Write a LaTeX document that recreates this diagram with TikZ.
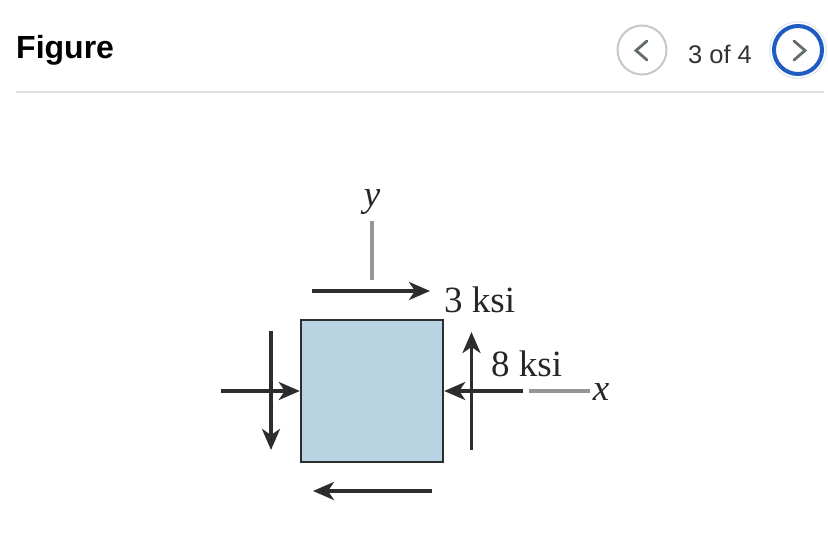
\documentclass[tikz,border=0pt]{standalone}
\usepackage{fontspec}
\setmainfont{Liberation Serif}
\newfontfamily\uifont{Liberation Sans}
\usetikzlibrary{arrows.meta,calc}
\definecolor{plateblue}{RGB}{184,211,226}
\definecolor{ringblue}{RGB}{32,91,194}
\definecolor{ringgrey}{RGB}{200,200,200}
\definecolor{chevrongrey}{RGB}{100,108,108}
\definecolor{axisgrey}{RGB}{150,150,150}
\definecolor{inkgrey}{RGB}{45,45,45}

\begin{document}
\begin{tikzpicture}[x=1pt, y=-1pt,
    load/.style={line width=3.6pt,draw=inkgrey,-{Stealth[length=21pt,width=18pt,inset=6pt,fill=black]}},
    axisline/.style={line width=3.6pt,draw=axisgrey},
    label/.style={font=\fontsize{37}{37}\selectfont,text=black!85,inner sep=0pt},
    chevron/.style={line width=2.8pt,draw=chevrongrey,line cap=round,line join=miter}]
  \useasboundingbox (0,0) rectangle (828,534);

  % Header of the panel
  \node[font=\uifont\bfseries\fontsize{32}{32}\selectfont,anchor=west,inner sep=0pt]
    (title) at (16,50) {Figure};
  \node[font=\uifont\fontsize{25.5}{25.5}\selectfont,text=black!80,inner sep=0pt]
    (pager) at (720,54) {3 of 4};
  \draw[line width=2pt,draw=black!12] (16,92) -- (824,92);

  % Previous button
  \node[circle,draw=ringgrey,line width=2pt,fill=white,minimum size=49pt,inner sep=0pt]
    (prev) at (642,50) {};
  \draw[chevron] (647,41) -- (636,50.5) -- (647,60);

  % Next button, the halo goes first
  \fill[ringblue!12] (798,50) circle (29);
  \fill[white] (798,50) circle (27.5);
  \node[circle,draw=ringblue,line width=4pt,fill=white,minimum size=48pt,inner sep=0pt]
    (next) at (798,50) {};
  \draw[chevron] (794,41) -- (805,50.5) -- (794,60);

  % The element
  \node[draw=inkgrey,line width=2.4pt,fill=plateblue,minimum size=142pt,inner sep=0pt]
    (plate) at (372,391) {};

  % Axes
  \node[label,font=\itshape\fontsize{37}{37}\selectfont] (ylabel) at (372,202) {y};
  \node[label,font=\itshape\fontsize{37}{37}\selectfont] (xlabel) at (601,392) {x};
  \coordinate (ytop) at (372,221);
  \coordinate (ybot) at (372,280);
  \coordinate (xleft) at (529,391);
  \coordinate (xright) at (590,391);
  \draw[axisline] (ytop) -- (ybot);
  \draw[axisline] (xleft) -- (xright);

  % Shear arrows, one on each face
  \coordinate (topstart) at (312,291);
  \coordinate (topend) at (430,291);
  \coordinate (botstart) at (432,491);
  \coordinate (botend) at (313,491);
  \coordinate (leftstart) at (271,331);
  \coordinate (leftend) at (271,450);
  \coordinate (rightstart) at (471.5,450);
  \coordinate (rightend) at (471.5,332);
  \draw[load] (topstart) -- (topend);
  \draw[load] (botstart) -- (botend);
  \draw[load] (leftstart) -- (leftend);
  \draw[load] (rightstart) -- (rightend);

  % Normal stress arrows
  \coordinate (westtail) at (221,391);
  \coordinate (easttail) at (523,391);
  \draw[load] (westtail) -- (plate.west);
  \draw[load] (easttail) -- (plate.east);

  % Stress values
  \node[label,anchor=west] (shear) at (444,300) {3 ksi};
  \node[label,anchor=west] (normal) at (491,364) {8 ksi};
\end{tikzpicture}
\end{document}
